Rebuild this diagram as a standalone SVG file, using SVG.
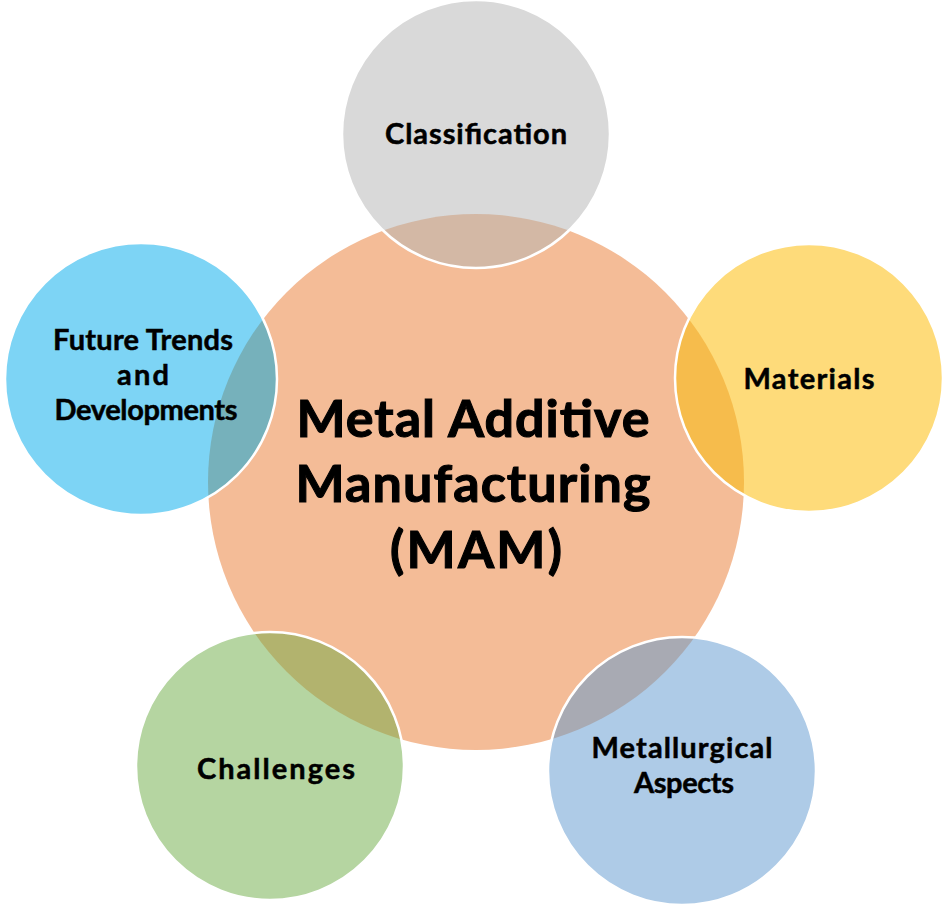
<svg xmlns="http://www.w3.org/2000/svg" width="944" height="908" viewBox="0 0 944 908">
<style>
  .lbl { font-family: Lato, "Open Sans", "Liberation Sans", sans-serif; font-weight: 700; fill: #000; stroke: #000; text-anchor: middle; }
  .small { font-size: 29px; stroke-width: 0.5; }
  .big { font-size: 52px; stroke-width: 1.1; }
  .ring { fill: none; stroke: #FFFFFF; stroke-width: 2.5; }
</style>
<defs>
  <clipPath id="centerClip"><circle cx="476" cy="482" r="268"/></clipPath>
</defs>
<rect width="944" height="908" fill="#FFFFFF"/>
<g id="center">
  <circle cx="476" cy="482" r="268" fill="#F4BC97"/>
  <text class="lbl big" x="473" y="437" textLength="353">Metal Additive</text>
  <text class="lbl big" x="473" y="502" textLength="355">Manufacturing</text>
  <text class="lbl big" x="476" y="568" textLength="172">(MAM)</text>
</g>
<g id="classification">
  <circle cx="476" cy="134" r="134" fill="#D9D9D9"/>
  <circle cx="476" cy="134" r="134" fill="#D3B8A5" clip-path="url(#centerClip)"/>
  <circle class="ring" cx="476" cy="134" r="134"/>
  <text class="lbl small" x="476" y="144" textLength="182">Classification</text>
</g>
<g id="materials">
  <circle cx="809" cy="378" r="134" fill="#FEDB7A"/>
  <circle cx="809" cy="378" r="134" fill="#F6BC4C" clip-path="url(#centerClip)"/>
  <circle class="ring" cx="809" cy="378" r="134"/>
  <text class="lbl small" x="809" y="389" textLength="131">Materials</text>
</g>
<g id="metallurgical">
  <circle cx="682" cy="771" r="134" fill="#AECBE7"/>
  <circle cx="682" cy="771" r="134" fill="#A8AAB3" clip-path="url(#centerClip)"/>
  <circle class="ring" cx="682" cy="771" r="134"/>
  <text class="lbl small" x="682" y="758" textLength="181">Metallurgical</text>
  <text class="lbl small" x="684" y="793" textLength="100">Aspects</text>
</g>
<g id="challenges">
  <circle cx="270" cy="766" r="134" fill="#B5D5A1"/>
  <circle cx="270" cy="766" r="134" fill="#B2B36E" clip-path="url(#centerClip)"/>
  <circle class="ring" cx="270" cy="766" r="134"/>
  <text class="lbl small" x="276" y="779" textLength="158">Challenges</text>
</g>
<g id="future">
  <circle cx="141" cy="379" r="136" fill="#7DD4F5"/>
  <circle cx="141" cy="379" r="136" fill="#76B1BB" clip-path="url(#centerClip)"/>
  <circle class="ring" cx="141" cy="379" r="136"/>
  <text class="lbl small" x="143" y="350" textLength="180">Future Trends</text>
  <text class="lbl small" x="143" y="385" textLength="52">and</text>
  <text class="lbl small" x="146" y="420" textLength="183">Developments</text>
</g>
<g id="connectors"/>
</svg>
